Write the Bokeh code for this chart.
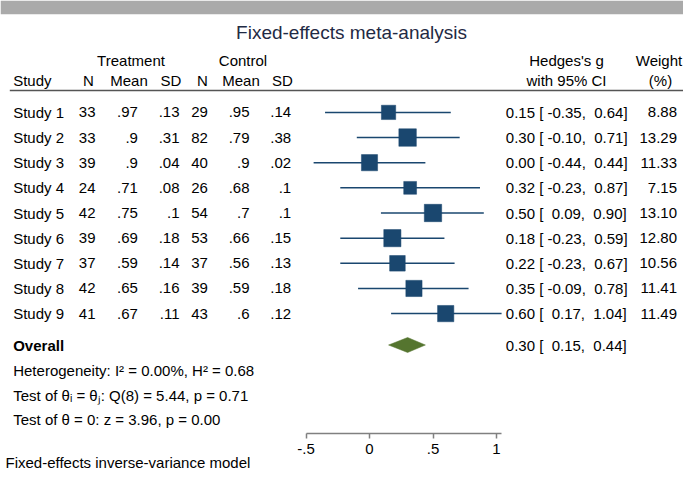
from bokeh.plotting import figure
from bokeh.models import Range1d, LinearAxis, FixedTicker, ColumnDataSource
from bokeh.core.properties import value
from bokeh.embed import file_html
from bokeh.resources import INLINE

# ---------------- data ----------------
studies = ["Study 1", "Study 2", "Study 3", "Study 4", "Study 5",
           "Study 6", "Study 7", "Study 8", "Study 9"]
n_t = [33, 33, 39, 24, 42, 39, 37, 42, 41]
mean_t = [0.97, 0.9, 0.9, 0.71, 0.75, 0.69, 0.59, 0.65, 0.67]
sd_t = [0.13, 0.31, 0.04, 0.08, 0.1, 0.18, 0.14, 0.16, 0.11]
n_c = [29, 82, 40, 26, 54, 53, 37, 39, 43]
mean_c = [0.95, 0.79, 0.9, 0.68, 0.7, 0.66, 0.56, 0.59, 0.6]
sd_c = [0.14, 0.38, 0.02, 0.1, 0.1, 0.15, 0.13, 0.18, 0.12]
g = [0.15, 0.30, 0.00, 0.32, 0.50, 0.18, 0.22, 0.35, 0.60]
g_lo = [-0.35, -0.10, -0.44, -0.23, 0.09, -0.23, -0.23, -0.09, 0.17]
g_hi = [0.64, 0.71, 0.44, 0.87, 0.90, 0.59, 0.67, 0.78, 1.04]
weights = [8.88, 13.29, 11.33, 7.15, 13.10, 12.80, 10.56, 11.41, 11.49]
overall = [0.30, 0.15, 0.44]
tick_vals = [-0.5, 0, 0.5, 1]
tick_labels = ["-.5", "0", ".5", "1"]

title_text = "Fixed-effects meta-analysis"
het_text = "Heterogeneity: I\u00b2 = 0.00%, H\u00b2 = 0.68"
q_text = "Test of \u03b8\u1d62 = \u03b8\u2c7c: Q(8) = 5.44, p = 0.71"
z_text = "Test of \u03b8 = 0: z = 3.96, p = 0.00"
foot_text = "Fixed-effects inverse-variance model"

# ---------------- layout ----------------
W, H = 683, 471
ZERO_PX, PX_PER_UNIT = 369.0, 127.0
ROW0, ROWSTEP = 111.9, 25.15
FONT = value("Liberation Sans")
FS = "15px"
NAVY = "#1a476f"
GREEN = "#55752f"


def stata_num(v):
    s = f"{v:g}"
    return s[1:] if s.startswith("0.") else s


p = figure(width=W, height=H, output_backend="svg", toolbar_location=None,
           x_axis_type=None, y_axis_type=None, min_border=0,
           x_range=Range1d(-ZERO_PX / PX_PER_UNIT, (W - ZERO_PX) / PX_PER_UNIT),
           y_range=Range1d(H, 0))
p.outline_line_color = None
p.background_fill_color = "white"
p.border_fill_color = "white"
p.extra_x_ranges = {"px": Range1d(0, W)}

rows_y = [ROW0 + ROWSTEP * i for i in range(len(studies))]
overall_y = 344.5

# gray band at top
p.quad(left=[0], right=[W], top=[0], bottom=[13.7], x_range_name="px",
       fill_color="#aaaaaa", line_color=None)


def txt(x, y, t, align="left", size=FS, color="black", style="normal"):
    if not isinstance(t, list):
        x, y, t = [x], [y], [t]
    elif not isinstance(x, list):
        x = [x] * len(t)
    src = ColumnDataSource(dict(x=x, y=y, t=t))
    p.text(x="x", y="y", text="t", source=src, x_range_name="px",
           text_font=FONT, text_font_size=size, text_color=color,
           text_align=align, text_baseline="middle", text_font_style=style)


# title
txt(351, 31.5, title_text, "center", "19px", "#1f2a44")

# headers
txt(130.5, 60, "Treatment", "center")
txt(242.5, 60, "Control", "center")
txt(566, 60, "Hedges's g", "center")
txt(658.5, 60, "Weight", "center")
txt(12.7, 80, "Study")
txt(88, 80, "N", "center")
txt(128.5, 80, "Mean", "center")
txt(170.5, 80, "SD", "center")
txt(202, 80, "N", "center")
txt(240.5, 80, "Mean", "center")
txt(282, 80, "SD", "center")
txt(566, 80, "with 95% CI", "center")
txt(660, 80, "(%)", "center")

# header rule
p.segment(x0=[9.3], x1=[W], y0=[90], y1=[90], x_range_name="px",
          line_color="#555555", line_width=1.5)

# table body
txt(12.7, rows_y, studies)
txt(95, rows_y, [str(v) for v in n_t], "right")
txt(137.4, rows_y, [stata_num(v) for v in mean_t], "right")
txt(179, rows_y, [stata_num(v) for v in sd_t], "right")
txt(207.4, rows_y, [str(v) for v in n_c], "right")
txt(249, rows_y, [stata_num(v) for v in mean_c], "right")
txt(290.7, rows_y, [stata_num(v) for v in sd_c], "right")
ci_strings = [f"{a:.2f} [{b:6.2f}, {c:5.2f}]".replace(" ", "\u00a0")
              for a, b, c in zip(g, g_lo, g_hi)]
txt(505.3, rows_y, ci_strings)
txt(676.5, rows_y, [f"{w:.2f}" for w in weights], "right")

# overall
txt(12.7, overall_y, "Overall", style="bold")
txt(505.3, overall_y,
    f"{overall[0]:.2f} [{overall[1]:6.2f}, {overall[2]:5.2f}]".replace(" ", "\u00a0"))
txt(12.7, 370, het_text)
txt(12.7, 395, q_text)
txt(12.7, 419.3, z_text)
txt(5, 462, foot_text)

# forest plot: CIs and markers
src = ColumnDataSource(dict(g=g, lo=g_lo, hi=g_hi, y=rows_y,
                            size=[4.8 * w ** 0.5 for w in weights]))
p.segment(x0="lo", x1="hi", y0="y", y1="y", source=src,
          line_color=NAVY, line_width=1.5)
p.scatter(x="g", y="y", size="size", marker="square", source=src,
          fill_color=NAVY, line_color=NAVY, line_width=0.5)

# overall diamond
half_h = 7.5
p.patch(x=[overall[1], overall[0], overall[2], overall[0]],
        y=[overall_y, overall_y - half_h, overall_y, overall_y + half_h],
        fill_color=GREEN, line_color=GREEN, line_width=0.5)

# axis
ax = LinearAxis(fixed_location=433, bounds=(tick_vals[0], max(g_hi)),
                ticker=FixedTicker(ticks=tick_vals),
                major_label_overrides=dict(zip(tick_vals, tick_labels)),
                axis_line_color="#808080", axis_line_width=1.5,
                major_tick_line_color="#808080", major_tick_line_width=1.5,
                major_tick_out=5, major_tick_in=0,
                minor_tick_line_color=None,
                major_label_text_font="Liberation Sans",
                major_label_text_font_size=FS,
                major_label_text_color="black",
                major_label_standoff=5)
p.add_layout(ax, "below")

open("out.html", "w").write(file_html(p, INLINE))
